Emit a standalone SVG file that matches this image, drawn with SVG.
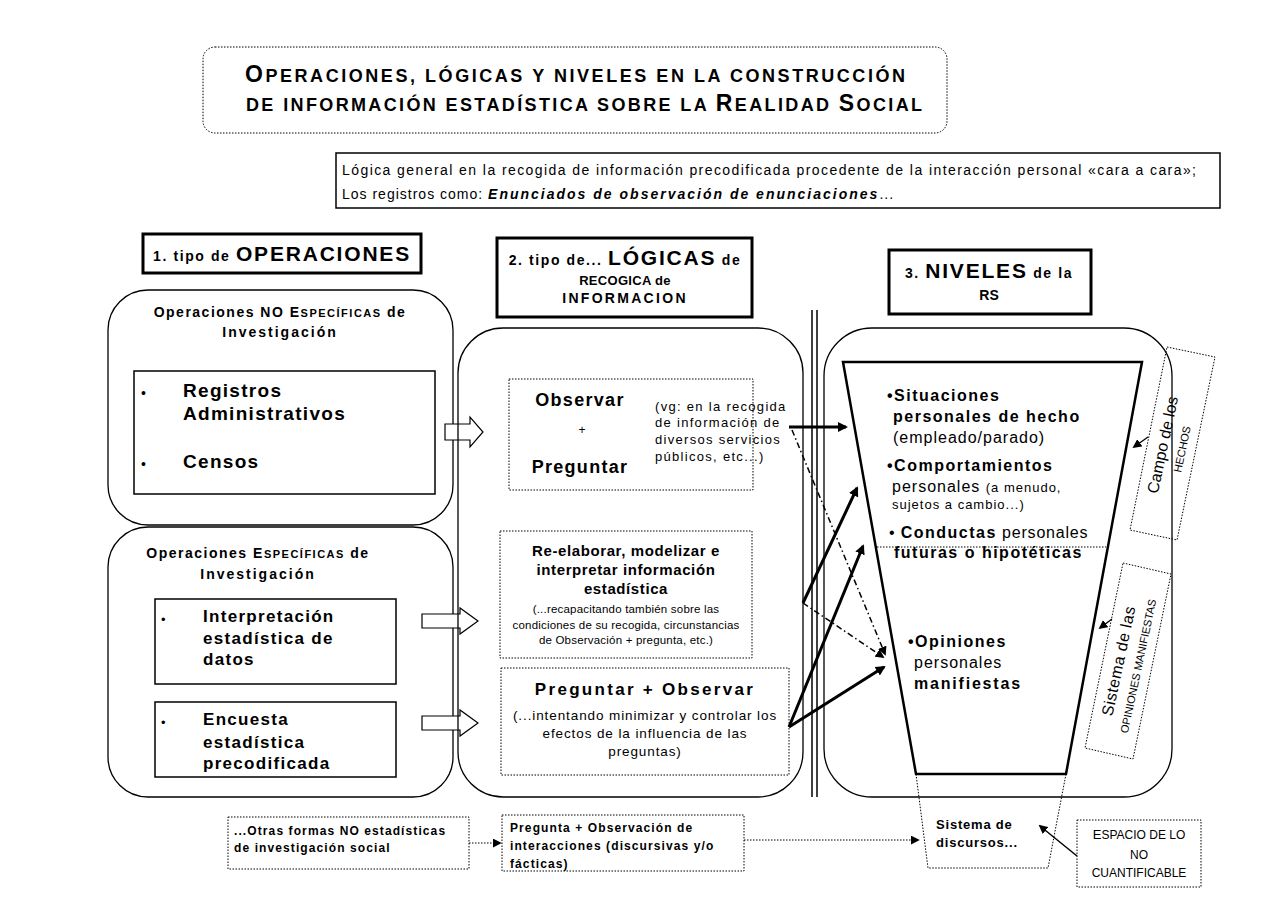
<svg xmlns="http://www.w3.org/2000/svg" width="1280" height="905" viewBox="0 0 1280 905">
<style>
text{font-family:"Liberation Sans",Arial,sans-serif;fill:#000}
.b{font-weight:bold}
.box{fill:none;stroke:#000;stroke-width:1.5}
.hdr{fill:#fff;stroke:#000;stroke-width:3}
.dot{fill:none;stroke:#000;stroke-width:1;stroke-dasharray:1.5 1.5}
.rb{fill:none;stroke:#000;stroke-width:1.3}
.thick{stroke:#000;stroke-width:3;fill:none}
.dd{stroke:#000;stroke-width:1.5;fill:none;stroke-dasharray:6 3 1.5 3}
.c{text-anchor:middle}
</style>
<defs>
<marker id="ah" markerWidth="10" markerHeight="10" refX="8" refY="5" orient="auto" markerUnits="userSpaceOnUse" viewBox="0 0 10 10"><path d="M0,0 L10,5 L0,10 z" fill="#000"/></marker>
<marker id="ahs" markerWidth="9" markerHeight="9" refX="8" refY="5" orient="auto" markerUnits="userSpaceOnUse" viewBox="0 0 10 10"><path d="M0,0 L10,5 L0,10 z" fill="#000"/></marker>
</defs>

<g id="title">
<rect x="203" y="47" width="744" height="86" rx="12" class="dot"/>
<text x="575" y="82" class="b c" font-size="18" textLength="660" lengthAdjust="spacing"><tspan font-size="23">O</tspan>PERACIONES, LÓGICAS Y NIVELES EN LA CONSTRUCCIÓN</text>
<text x="584" y="111" class="b c" font-size="18" textLength="676" lengthAdjust="spacing">DE INFORMACIÓN ESTADÍSTICA SOBRE LA <tspan font-size="23">R</tspan>EALIDAD <tspan font-size="23">S</tspan>OCIAL</text>
</g>

<g id="subtitle">
<rect x="336" y="153" width="884" height="55" fill="none" stroke="#000" stroke-width="1.5"/>
<text x="342" y="175" font-size="14" textLength="854" lengthAdjust="spacing">Lógica general en la recogida de información precodificada procedente de la interacción personal «cara a cara»;</text>
<text x="342" y="199" font-size="14" letter-spacing="1">Los registros como: <tspan class="b" font-style="italic" letter-spacing="2">Enunciados de observación de enunciaciones</tspan>...</text>
</g>

<g id="hdr1">
<rect x="143" y="234" width="278" height="39" class="hdr"/>
<text x="282" y="261" class="b c" font-size="14" letter-spacing="1.6">1. tipo de <tspan font-size="21" letter-spacing="1.8">OPERACIONES</tspan></text>
</g>
<g id="hdr2">
<rect x="497" y="238" width="255" height="79" class="hdr"/>
<text x="625" y="265" class="b c" font-size="14" letter-spacing="1.6">2. tipo de... <tspan font-size="21" letter-spacing="1.8">LÓGICAS</tspan> de</text>
<text x="625" y="285" class="b c" font-size="13" letter-spacing="0.3">RECOGICA de</text>
<text x="625" y="303" class="b c" font-size="14" letter-spacing="2.3">INFORMACION</text>
</g>
<g id="hdr3">
<rect x="889" y="250" width="202" height="64" class="hdr"/>
<text x="989" y="278" class="b c" font-size="14" letter-spacing="1.6">3. <tspan font-size="21" letter-spacing="1.8">NIVELES</tspan> de la</text>
<text x="989" y="300" class="b c" font-size="14">RS</text>
</g>

<g id="ops-no">
<rect x="108" y="290" width="345" height="235" rx="40" class="rb"/>
<text x="280" y="317" class="b c" font-size="14" letter-spacing="1.5">Operaciones NO <tspan>E</tspan><tspan font-size="11">SPECÍFICAS</tspan> de</text>
<text x="280" y="337" class="b c" font-size="14" letter-spacing="2">Investigación</text>
<rect x="134" y="371" width="301" height="123" class="box"/>
<text x="141" y="398" font-size="14">•</text>
<text x="183" y="397" class="b" font-size="19" letter-spacing="1.3">Registros</text>
<text x="183" y="420" class="b" font-size="19" letter-spacing="1.3">Administrativos</text>
<text x="141" y="469" font-size="14">•</text>
<text x="183" y="468" class="b" font-size="19" letter-spacing="1.3">Censos</text>
</g>

<g id="ops-esp">
<rect x="108" y="527" width="345" height="270" rx="40" class="rb"/>
<text x="258" y="558" class="b c" font-size="14" letter-spacing="1.5">Operaciones <tspan>E</tspan><tspan font-size="11">SPECÍFICAS</tspan> de</text>
<text x="258" y="579" class="b c" font-size="14" letter-spacing="2">Investigación</text>
<rect x="155" y="599" width="241" height="85" class="box"/>
<text x="161" y="624" font-size="13">•</text>
<text x="203" y="622" class="b" font-size="17" letter-spacing="1.3">Interpretación</text>
<text x="203" y="644" class="b" font-size="17" letter-spacing="1.3">estadística de</text>
<text x="203" y="665" class="b" font-size="17" letter-spacing="1.3">datos</text>
<rect x="155" y="702" width="241" height="75" class="box"/>
<text x="161" y="727" font-size="13">•</text>
<text x="203" y="725" class="b" font-size="17" letter-spacing="1.3">Encuesta</text>
<text x="203" y="748" class="b" font-size="17" letter-spacing="1.3">estadística</text>
<text x="203" y="769" class="b" font-size="17" letter-spacing="1.3">precodificada</text>
</g>

<g id="block-arrows">
<polygon points="445,424 470,424 470,417 483,432 470,447 470,440 445,440" fill="#fff" stroke="#000" stroke-width="1.2"/>
<polygon points="422,614 460,614 460,608 478,621 460,634 460,628 422,628" fill="#fff" stroke="#000" stroke-width="1.2"/>
<polygon points="422,716 460,716 460,710 478,723 460,736 460,730 422,730" fill="#fff" stroke="#000" stroke-width="1.2"/>
</g>

<g id="logicas">
<rect x="458" y="328" width="345" height="469" rx="45" class="rb" fill="none"/>
</g>

<g id="separator">
<line x1="812" y1="310" x2="812" y2="797" stroke="#000" stroke-width="1.5"/>
<line x1="817" y1="310" x2="817" y2="797" stroke="#000" stroke-width="1.5"/>
</g>

<g id="observar">
<rect x="509" y="379" width="244" height="111" class="dot"/>
<text x="580" y="406" class="b c" font-size="18" letter-spacing="1.3">Observar</text>
<text x="582" y="434" class="c" font-size="12">+</text>
<text x="580" y="473" class="b c" font-size="18" letter-spacing="1.3">Preguntar</text>
<text x="655" y="411" font-size="13" letter-spacing="1.3">(vg: en la recogida</text>
<text x="655" y="427" font-size="13" letter-spacing="1.3">de información de</text>
<text x="655" y="444" font-size="13" letter-spacing="1.3">diversos servicios</text>
<text x="655" y="461" font-size="13" letter-spacing="1.3">públicos, etc...)</text>
</g>

<g id="reelaborar">
<rect x="500" y="531" width="252" height="127" class="dot"/>
<text x="626" y="556" class="b c" font-size="15" letter-spacing="0.6">Re-elaborar, modelizar e</text>
<text x="626" y="575" class="b c" font-size="15" letter-spacing="0.6">interpretar información</text>
<text x="626" y="594" class="b c" font-size="15" letter-spacing="0.6">estadística</text>
<text x="626" y="613" class="c" font-size="11.5" letter-spacing="0.2">(...recapacitando también sobre las</text>
<text x="626" y="629" class="c" font-size="11.5" letter-spacing="0.2">condiciones de su recogida, circunstancias</text>
<text x="626" y="644" class="c" font-size="11.5" letter-spacing="0.2">de Observación + pregunta, etc.)</text>
</g>

<g id="preguntar">
<rect x="501" y="668" width="288" height="107" class="dot"/>
<text x="645" y="695" class="b c" font-size="17" letter-spacing="2.3">Preguntar + Observar</text>
<text x="645" y="720" class="c" font-size="13.5" letter-spacing="0.9">(...intentando minimizar y controlar los</text>
<text x="645" y="738" class="c" font-size="13.5" letter-spacing="0.9">efectos de la influencia de las</text>
<text x="645" y="756" class="c" font-size="13.5" letter-spacing="0.9">preguntas)</text>
</g>

<g id="niveles">
<rect x="824" y="328" width="348" height="469" rx="48" class="rb"/>
<polygon points="843,362 1142,362 1066,774 916,774" fill="#fff" stroke="#000" stroke-width="2.5"/>
<line x1="877" y1="547" x2="1106" y2="547" class="dot" stroke-width="1.5"/>
<text x="887" y="401" class="b" font-size="16" letter-spacing="1.5">•Situaciones</text>
<text x="893" y="422" class="b" font-size="16" letter-spacing="1.5">personales de hecho</text>
<text x="893" y="443" font-size="16" letter-spacing="1">(empleado/parado)</text>
<text x="887" y="471" class="b" font-size="16" letter-spacing="1.5">•Comportamientos</text>
<text x="892" y="492" font-size="16" letter-spacing="1">personales <tspan font-size="13">(a menudo,</tspan></text>
<text x="892" y="509" font-size="13" letter-spacing="1">sujetos a cambio...)</text>
<text x="889" y="538" font-size="16" letter-spacing="0.8">• <tspan class="b" letter-spacing="1.5">Conductas</tspan> personales</text>
<text x="894" y="558" class="b" font-size="16" letter-spacing="1.5">futuras o hipotéticas</text>
<text x="908" y="647" class="b" font-size="16" letter-spacing="1.5">•Opiniones</text>
<text x="914" y="668" font-size="16" letter-spacing="1">personales</text>
<text x="914" y="689" class="b" font-size="16" letter-spacing="1.8">manifiestas</text>
</g>

<g id="campo-hechos">
<polygon points="1167,347 1215,357 1177,540 1130,530" class="dot"/>
<text transform="translate(1168,446) rotate(-78)" class="c" font-size="16">Campo de los</text>
<text transform="translate(1186,450) rotate(-78)" class="c" font-size="11">HECHOS</text>
</g>

<g id="sistema-opiniones">
<polygon points="1123,563 1171,574 1133,759 1085,748" class="dot"/>
<text transform="translate(1124,662) rotate(-78)" class="c" font-size="16" letter-spacing="0.5">Sistema de las</text>
<text transform="translate(1142,667) rotate(-78)" class="c" font-size="11">OPINIONES MANIFIESTAS</text>
</g>

<g id="sistema-discursos">
<polyline points="916,774 928,868 1048,868 1066,774" class="dot"/>
<text x="936" y="829" class="b" font-size="13" letter-spacing="0.8">Sistema de</text>
<text x="936" y="847" class="b" font-size="13" letter-spacing="0.8">discursos...</text>
</g>

<g id="espacio">
<rect x="1077" y="820" width="124" height="67" class="dot"/>
<text x="1139" y="839" class="c" font-size="12"><tspan font-size="13">E</tspan>SPACIO DE LO</text>
<text x="1139" y="859" class="c" font-size="12">NO</text>
<text x="1139" y="877" class="c" font-size="12">CUANTIFICABLE</text>
</g>

<g id="otras">
<rect x="228" y="817" width="241" height="52" class="dot"/>
<text x="234" y="835" class="b" font-size="12" letter-spacing="1.1">...Otras formas NO estadísticas</text>
<text x="234" y="852" class="b" font-size="12" letter-spacing="1.1">de investigación social</text>
</g>

<g id="pregunta-obs">
<rect x="502" y="815" width="242" height="56" class="dot"/>
<text x="510" y="832" class="b" font-size="12" letter-spacing="1.1">Pregunta + Observación de</text>
<text x="510" y="850" class="b" font-size="12" letter-spacing="1.1">interacciones (discursivas y/o</text>
<text x="510" y="868" class="b" font-size="12" letter-spacing="1.1">fácticas)</text>
</g>

<g id="connectors">
<line x1="789" y1="427" x2="846" y2="427" class="thick" marker-end="url(#ah)"/>
<line x1="792" y1="430" x2="885" y2="654" class="dd" marker-end="url(#ahs)"/>
<line x1="803" y1="603" x2="883" y2="657" class="dd" marker-end="url(#ahs)"/>
<line x1="803" y1="603" x2="857" y2="488" class="thick" marker-end="url(#ah)"/>
<line x1="789" y1="727" x2="863" y2="546" class="thick" marker-end="url(#ah)"/>
<line x1="789" y1="727" x2="884" y2="667" class="thick" marker-end="url(#ah)"/>
<line x1="1148" y1="437" x2="1134" y2="447" stroke="#000" stroke-width="1.3" marker-end="url(#ahs)"/>
<line x1="1112" y1="619" x2="1100" y2="628" stroke="#000" stroke-width="1.3" marker-end="url(#ahs)"/>
<line x1="1077" y1="856" x2="1040" y2="826" stroke="#000" stroke-width="1.5" marker-end="url(#ahs)"/>
<line x1="469" y1="843" x2="500" y2="843" class="dot" stroke-width="1.3" marker-end="url(#ahs)"/>
<line x1="744" y1="840" x2="918" y2="840" class="dot" stroke-width="1.3" marker-end="url(#ahs)"/>
</g>
</svg>
